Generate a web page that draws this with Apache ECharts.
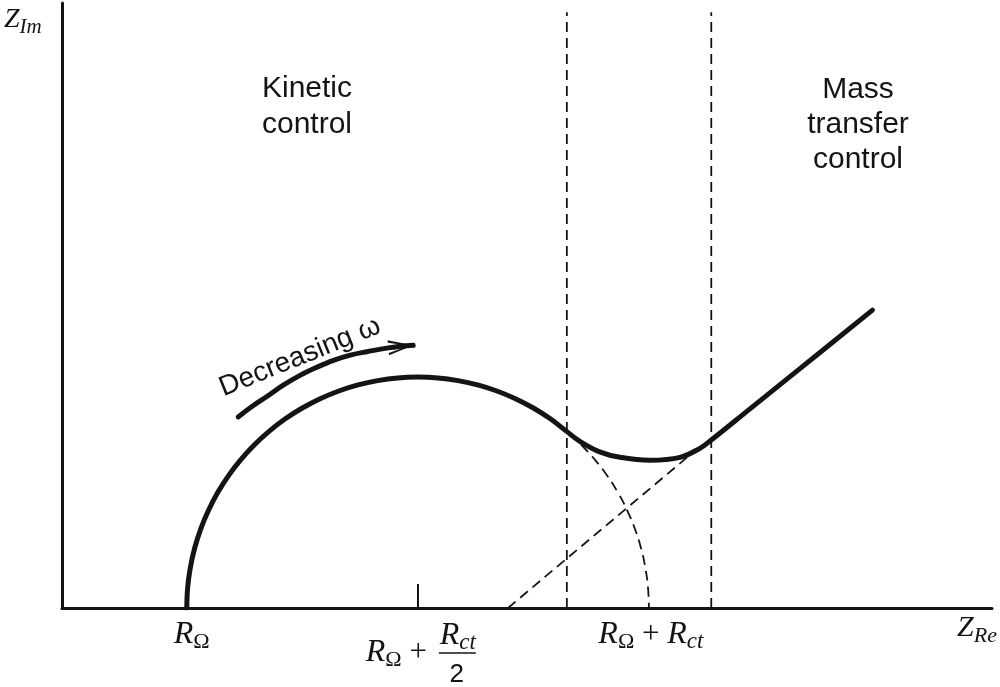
<!DOCTYPE html>
<html><head><meta charset="utf-8">
<script src="https://cdn.jsdelivr.net/npm/echarts@6/dist/echarts.min.js"></script>
<style>html,body{margin:0;padding:0;background:#fff}#main{width:1000px;height:687px}</style>
</head><body><div id="main"></div>
<script>
// ---- data (arbitrary impedance units) ----
const xRange = [0, 161];
const yRange = [0, 104.8];
const R_OHM = 21.6;
const R_CT = 80;
const tickValues = [R_OHM, R_OHM + R_CT / 2, R_OHM + R_CT];

// measured Nyquist curve (solid)
const impedanceCurve = [
  [21.6, 0], [21.75, 3.49], [22.21, 6.95], [22.96, 10.35], [24.01, 13.68], [25.35, 16.9],
  [26.96, 20.0], [28.83, 22.94], [30.96, 25.71], [33.32, 28.28], [35.89, 30.64],
  [38.66, 32.77], [41.6, 34.64], [44.69, 36.25], [47.92, 37.59], [51.25, 38.64],
  [54.65, 39.39], [58.11, 39.85], [61.6, 40.0], [65.09, 39.85], [68.55, 39.39],
  [71.95, 38.64], [75.28, 37.59], [78.51, 36.25], [81.6, 34.64], [84.54, 32.77],
  [87.31, 30.64], [89.6, 28.9], [93.2, 27.0], [96.6, 26.1], [101.8, 25.6],
  [107.0, 26.1], [110.5, 27.7], [112.4, 29.1], [119.1, 34.5], [127.8, 41.5], [140.3, 51.6]
];
// continuation of the kinetic semicircle (dashed)
const kineticArc = [
  [89.88, 28.28], [92.24, 25.71], [94.37, 22.94], [96.24, 20.0], [97.85, 16.9],
  [99.19, 13.68], [100.24, 10.35], [100.99, 6.95], [101.45, 3.49], [101.6, 0]
];
// Warburg (mass transfer) asymptote (dashed)
const warburgLine = [[77.2, 0], [109.3, 27.0]];
// region boundaries (dashed verticals)
const boundaryKinetic = [[87.4, 0], [87.4, 103.2]];
const boundaryMass = [[112.4, 0], [112.4, 103.2]];
// "Decreasing omega" arrow
const arrowArc = [[30.5, 33.1], [33.0, 35.0], [35.4, 36.6], [38.3, 38.6], [41.2, 40.3],
  [44.1, 41.7], [47.0, 42.9], [49.9, 43.8], [52.8, 44.4], [56.8, 45.1], [60.8, 45.5]];

const INK = '#141414';
const dashed = { color: INK, width: 1.8, type: [10, 6] };

const chart = echarts.init(document.getElementById('main'), null, { renderer: 'canvas' });
const option = {
  animation: false,
  backgroundColor: '#fff',
  grid: { left: 62, right: 8, top: 3, bottom: 79, containLabel: false },
  xAxis: {
    type: 'value', min: xRange[0], max: xRange[1],
    axisLine: { show: true, onZero: false, lineStyle: { color: INK, width: 3 } },
    axisTick: { show: true, customValues: [tickValues[1]], inside: true, length: 24, lineStyle: { color: INK, width: 2 } },
    axisLabel: { show: false },
    splitLine: { show: false }
  },
  yAxis: {
    type: 'value', min: yRange[0], max: yRange[1],
    axisLine: { show: true, onZero: false, lineStyle: { color: INK, width: 3 } },
    axisTick: { show: false }, axisLabel: { show: false }, splitLine: { show: false }
  },
  series: [
    { type: 'line', data: boundaryKinetic, symbol: 'none', lineStyle: dashed, silent: true },
    { type: 'line', data: boundaryMass, symbol: 'none', lineStyle: dashed, silent: true },
    { type: 'line', data: warburgLine, symbol: 'none', lineStyle: dashed, silent: true },
    { type: 'line', data: kineticArc, symbol: 'none', smooth: true, lineStyle: dashed, silent: true },
    { type: 'line', data: impedanceCurve, symbol: 'none', smooth: 0.4,
      lineStyle: { color: INK, width: 5, cap: 'round', join: 'round' }, silent: true, z: 5 },
    { type: 'line', data: arrowArc, symbol: 'none', smooth: 0.4,
      lineStyle: { color: INK, width: 5, cap: 'round', join: 'round' }, silent: true, z: 5 },
    { type: 'lines', coordinateSystem: 'cartesian2d', silent: true, z: 6,
      data: [{ coords: arrowArc.slice(-2) }],
      symbol: ['none', 'path://M0,0 M56,56 M28,28 L35.5,53 L33.2,53 L28,32.5 L22.8,53 L20.5,53 Z'],
      symbolSize: 56,
      lineStyle: { color: INK, width: 4, opacity: 1 } }
  ]
};
chart.setOption(option);

// ---- text annotations ----
const SERIF = '"Liberation Serif", "DejaVu Serif", serif';
const SANS = '"Liberation Sans", Arial, sans-serif';
const mctx = document.createElement('canvas').getContext('2d');
function fontStr(p) { return (p.italic ? 'italic ' : '') + p.size + 'px ' + p.family; }
function mathText(parts, x, baseline, align) {
  const widths = parts.map(p => { mctx.font = fontStr(p); return mctx.measureText(p.t).width; });
  const total = widths.reduce((a, b) => a + b, 0);
  let cx = align === 'center' ? x - total / 2 : align === 'right' ? x - total : x;
  const els = [];
  parts.forEach((p, i) => {
    els.push({
      type: 'text', x: cx, y: baseline + (p.dy || 0) - 0.34 * p.size, silent: true,
      style: {
        text: p.t, fill: INK, fontSize: p.size, fontFamily: p.family,
        fontStyle: p.italic ? 'italic' : 'normal',
        align: 'left', verticalAlign: 'middle', textAlign: 'left', textVerticalAlign: 'middle'
      }
    });
    cx += widths[i];
  });
  return els;
}
const R = { t: 'R', size: 32, italic: true, family: SERIF };
const OMEGA = { t: 'Ω', size: 22, family: SERIF, dy: 5 };
const PLUS = { t: ' + ', size: 31, family: SERIF };
const CT = { t: 'ct', size: 23, italic: true, family: SERIF, dy: 5 };

const px = v => chart.convertToPixel({ gridIndex: 0 }, [v, 0])[0];
const xA = px(tickValues[0]), xB = px(tickValues[1]), xC = px(tickValues[2]);

let els = [];
els = els.concat(mathText([R, OMEGA], xA + 5, 645, 'center'));
els = els.concat(mathText([R, OMEGA, PLUS, R, CT], xC + 2, 645, 'center'));
// fraction label R_Ω + R_ct / 2
els = els.concat(mathText([R, OMEGA, { t: ' +', size: 31, family: SERIF }], xB - 52, 663, 'left'));
els = els.concat(mathText([R, CT], xB + 40, 646, 'center'));
els.push({ type: 'line', silent: true, shape: { x1: xB + 21, y1: 653, x2: xB + 58, y2: 653 },
  style: { stroke: INK, lineWidth: 1.6 } });
els = els.concat(mathText([{ t: '2', size: 26, family: SANS }], xB + 39, 684, 'center'));
// axis names
els = els.concat(mathText([{ t: 'Z', size: 30, italic: true, family: SERIF },
  { t: 'Re', size: 22, italic: true, family: SERIF, dy: 6 }], 997, 638, 'right'));
els = els.concat(mathText([{ t: 'Z', size: 28, italic: true, family: SERIF },
  { t: 'Im', size: 21, italic: true, family: SERIF, dy: 6 }], 4, 29, 'left'));
// region labels
els.push({ type: 'text', x: 307, y: 71, silent: true, style: {
  text: 'Kinetic\ncontrol', fill: INK, fontSize: 30, fontFamily: SANS, lineHeight: 36,
  align: 'center', verticalAlign: 'top', textAlign: 'center', textVerticalAlign: 'top' } });
els.push({ type: 'text', x: 858, y: 72, silent: true, style: {
  text: 'Mass\ntransfer\ncontrol', fill: INK, fontSize: 30, fontFamily: SANS, lineHeight: 35,
  align: 'center', verticalAlign: 'top', textAlign: 'center', textVerticalAlign: 'top' } });
els.push({ type: 'text', x: 300, y: 357, rotation: 22 * Math.PI / 180, silent: true, style: {
  text: 'Decreasing ω', fill: INK, fontSize: 28, fontFamily: SANS,
  align: 'center', verticalAlign: 'middle', textAlign: 'center', textVerticalAlign: 'middle' } });

chart.setOption({ graphic: { elements: els } });
</script>
</body></html>
